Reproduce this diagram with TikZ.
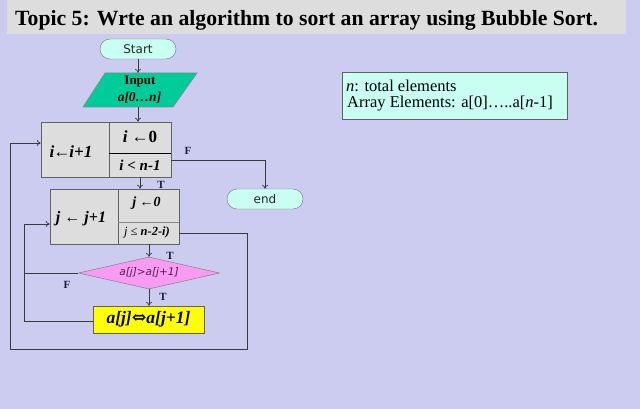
\documentclass[tikz,border=0pt]{standalone}
\usepackage{fontspec}
\setmainfont{Liberation Serif}
\newfontfamily\vsans{DejaVu Sans}
\newfontfamily\dserif{DejaVu Serif}
\usetikzlibrary{shapes.geometric,arrows.meta}
\definecolor{bg}{HTML}{CCCCF0}
\definecolor{bar}{HTML}{DDDDDD}
\definecolor{boxg}{HTML}{DDDDDD}
\definecolor{mint}{HTML}{C8FFF0}
\definecolor{teal}{HTML}{00CC99}
\definecolor{pinkd}{HTML}{F79CF2}
\definecolor{yel}{HTML}{FFFF00}
\definecolor{ln}{HTML}{3A3A3A}
\definecolor{lab}{HTML}{1A1A3A}
\definecolor{dtxt}{HTML}{5A1A5A}
\begin{document}
\begin{tikzpicture}[x=1pt,y=-1pt,
  conn/.style={draw=ln,line width=0.7pt},
  arr/.style={conn,-{To[length=4pt,width=6pt]}},
  term/.style={draw=ln!70,fill=mint,rounded corners=10pt,minimum width=76pt,minimum height=20pt,inner sep=0pt,font=\vsans\fontsize{12}{14}\selectfont,text=black!85},
  grey/.style={draw=ln!80,fill=boxg,line width=0.6pt},
  tf/.style={font=\bfseries\fontsize{11}{12}\selectfont,text=lab,inner sep=0pt},
  bt/.style={inner sep=0pt,font=\bfseries\itshape}
]
\useasboundingbox (0,0) rectangle (640,409);
\fill[bg] (0,0) rectangle (640,409);
% title bar
\fill[bar] (7,0) rectangle (626,34);
\node[anchor=base west,inner sep=0pt,font=\bfseries\fontsize{21.7}{24}\selectfont] (title) at (15,26) {Topic 5: Wrte an algorithm to sort an array using Bubble Sort.};
% info box
\node[draw=ln!80,fill=mint,minimum width=225pt,minimum height=47pt,inner sep=0pt] (info) at (454.5,95.5) {};
\node[anchor=base west,inner sep=0pt,font=\fontsize{16.5}{18}\selectfont] (info1) at (346,92) {\textit{n}: total elements};
\node[anchor=base west,inner sep=0pt,font=\fontsize{16.5}{18}\selectfont] (info2) at (347,108) {Array Elements: a[0]…..a[\textit{n}-1]};
% start
\node[term] (start) at (138,49) {Start};
% input parallelogram
\draw[draw=ln!60,fill=teal,line width=0.6pt] (105,73) -- (197,73) -- (173,107) -- (83,107) -- cycle;
\node[minimum width=90pt,minimum height=34pt,inner sep=0pt] (input) at (138,90) {};
\node[bt,font=\bfseries\fontsize{13}{15}\selectfont] (inputt) at (140,82) {Input};
\node[bt,font=\bfseries\itshape\fontsize{13.5}{15}\selectfont] (inputa) at (139.5,98) {a[0…n]};
% box 1
\node[grey,minimum width=130pt,minimum height=55pt,inner sep=0pt] (b1) at (106,149.5) {};
\draw[ln!80,line width=0.6pt] (109,122) -- (109,177);
\draw[black,line width=1pt] (109,154) -- (171,154);
\node[bt,font=\bfseries\itshape\fontsize{17}{19}\selectfont] (b1l) at (71,152) {i\kern-1pt←\kern-1pt i+1};
\node[bt,font=\bfseries\fontsize{17}{19}\selectfont] (b1a) at (140,137) {\textit{i} ←0};
\node[bt,font=\bfseries\itshape\fontsize{15}{17}\selectfont] (b1b) at (140,165) {i < n-1};
% box 2
\node[grey,minimum width=129pt,minimum height=55pt,inner sep=0pt] (b2) at (114.5,216.5) {};
\draw[ln!80,line width=0.6pt] (118,189) -- (118,244);
\draw[ln!60,line width=0.5pt] (118,222) -- (179,222);
\node[bt,font=\bfseries\itshape\fontsize{16}{18}\selectfont] (b2l) at (81,219) {j ← j+1};
\node[bt,font=\bfseries\itshape\fontsize{14}{16}\selectfont] (b2a) at (146.5,203) {j ←0};
\node[bt,font=\itshape\fontsize{12.5}{14}\selectfont] (b2b) at (147,232) {j ≤ \textbf{n-2-i)}};
% end
\node[term] (end) at (265,199) {end};
% diamond
\node[diamond,draw=ln!70,fill=pinkd,minimum width=141pt,minimum height=32pt,aspect=4.4,inner sep=0pt,font=\vsans\itshape\fontsize{10.5}{12}\selectfont,text=dtxt] (cmp) at (149,273) {a[j]>a[j+1]};
% yellow swap
\node[draw=ln!80,fill=yel,minimum width=111pt,minimum height=27pt,inner sep=0pt,font=\bfseries\itshape\fontsize{17.5}{19}\selectfont] (swap) at (148.5,319.5) {a[j]{\dserif\bfseries\upshape ⇔}a[j+1]};
% coordinates
\coordinate (f1) at (265,160);
\coordinate (o1) at (247,233);
\coordinate (o2) at (247,349);
\coordinate (o3) at (10,349);
\coordinate (o4) at (10,143);
\coordinate (i1) at (24,273);
\coordinate (i2) at (24,224);
\coordinate (i3) at (24,321);
% connectors
\draw[arr] (start.south) -- (input.north);
\draw[arr] (input.south) -- (b1.north -| input.south);
\draw[arr] (b1.south -| 140,0) -- (b2.north -| 140,0);
\draw[arr] (b1.east |- f1) -- (f1) -- (end.north);
\draw[arr] (b2.east |- o1) -- (o1) -- (o2) -- (o3) -- (o4) -- (b1.west |- o4);
\draw[arr] (b2.south -| cmp.north) -- (cmp.north);
\draw[arr] (cmp.west) -- (i1) -- (i2) -- (b2.west |- i2);
\draw[arr] (cmp.south) -- (swap.north -| cmp.south);
\draw[conn] (swap.west |- i3) -- (i3) -- (i1);
% labels
\node[tf] (lF1) at (188,151) {F};
\node[tf] (lT1) at (161,185) {T};
\node[tf] (lT2) at (170,256) {T};
\node[tf] (lF2) at (67,285) {F};
\node[tf] (lT3) at (163,297) {T};
\end{tikzpicture}
\end{document}
